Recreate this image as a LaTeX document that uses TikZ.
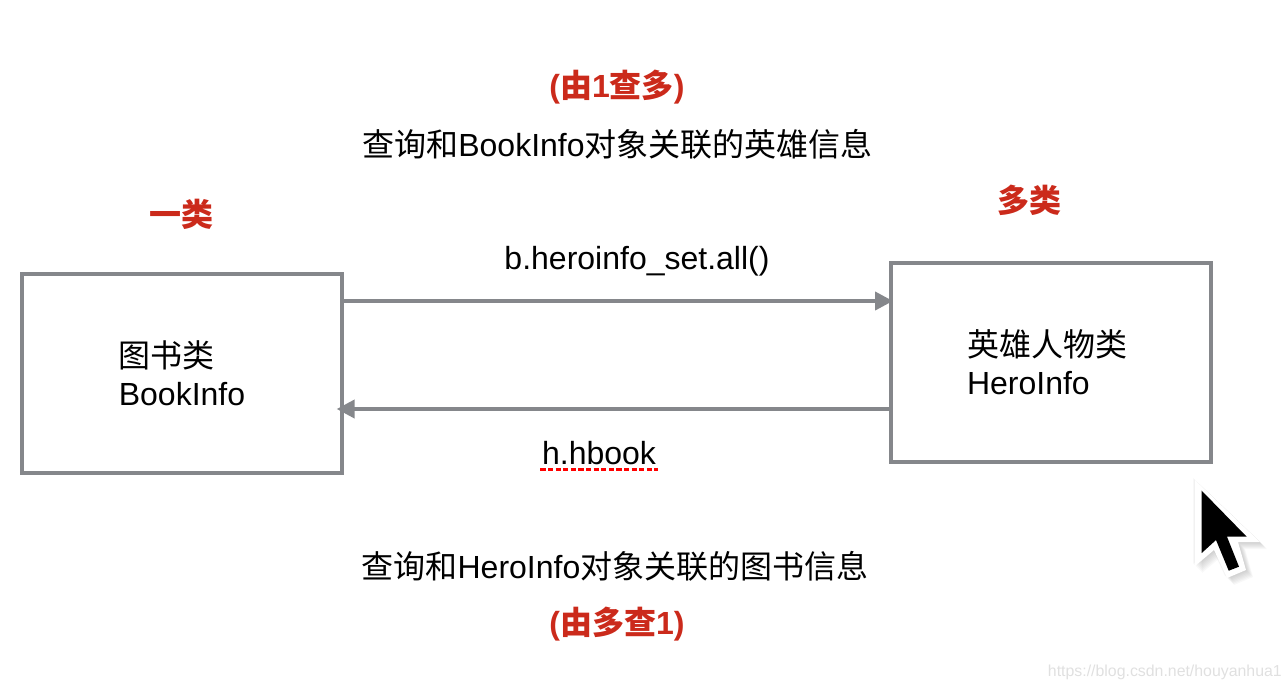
\documentclass[tikz,border=0pt]{standalone}
\usepackage{fontspec}
\setmainfont{Liberation Sans}
\newfontfamily\cjk{Noto Sans CJK SC}
\newcommand{\zh}[1]{{\cjk #1}}
\usetikzlibrary{arrows.meta}
\definecolor{linegray}{HTML}{85878B}
\definecolor{labelred}{HTML}{CB2A1B}
\tikzset{>={Triangle[width=13.5pt,length=13.5pt]}}
\tikzset{classbox/.style={draw=linegray, line width=3pt, minimum width=240pt, minimum height=149pt, align=left}}
\tikzset{link/.style={draw=linegray, line width=3pt, ->, color=linegray}}
\tikzset{plain/.style={font=\fontsize{24}{29}\selectfont, inner sep=1pt}}
\tikzset{redlabel/.style={font=\fontsize{24}{29}\selectfont\bfseries, text=labelred, inner sep=1pt}}
\begin{document}
\begin{tikzpicture}[x=0.75pt, y=-0.75pt]
    \useasboundingbox (0,0) rectangle (1288,690);
    \node[redlabel] (topnote) at (617,87) {(\zh{由}1\zh{查多})};
    \node[plain] (topquery) at (617.5,144) {\zh{查询和}BookInfo\zh{对象关联的英雄信息}};
    \node[redlabel] (onelabel) at (181,214) {\zh{一类}};
    \node[redlabel] (manylabel) at (1029,200) {\zh{多类}};
    \node[classbox, plain, inner sep=1pt] (book) at (182,373.5) {\zh{图书类}\\[-0.75pt]BookInfo};
    \node[classbox, plain, inner sep=1pt, text width=126pt] (hero) at (1051,362.5) {\zh{英雄人物类}\\[-0.75pt]HeroInfo};
    \coordinate (upper) at (617,301);
    \coordinate (lower) at (617,409);
    \draw[link, shorten >=-3pt] (book.east |- upper) -- (hero.west |- upper);
    \draw[link, shorten >=-5.5pt] (hero.west |- lower) -- (book.east |- lower);
    \node[plain] (getheroes) at (637,261.5) {b.heroinfo\_set.all()};
    \node[plain] (getbook) at (599,453) {h.hbook};
    \draw[red, line width=2.25pt, dash pattern=on 3.8pt off 1.9pt] ([yshift=-2pt]getbook.south west) -- ([yshift=-2pt]getbook.south east);
    \node[plain] (bottomquery) at (615,566) {\zh{查询和}HeroInfo\zh{对象关联的图书信息}};
    \node[redlabel] (bottomnote) at (617,624) {(\zh{由多查}1)};
    \foreach \s in {-2,...,7}
      \fill[black, opacity=0.028] (1195+\s,480+\s) -- (1260+\s,542+\s) -- (1238+\s,542+\s) -- (1246+\s,570+\s) -- (1227+\s,578+\s) -- (1214+\s,550+\s) -- (1195+\s,566+\s) -- cycle;
    \fill[white] (1195,480) -- (1260,542) -- (1238,542) -- (1246,570) -- (1227,578) -- (1214,550) -- (1195,566) -- cycle;
    \fill[black] (1201.7,490.7) -- (1246.7,536.7) -- (1227,536.7) -- (1239,566.7) -- (1228.7,570.7) -- (1216,540) -- (1201.7,553) -- cycle;
    \node[font=\fontsize{11.9}{14}\selectfont, text=black!12, anchor=east, inner sep=0pt] (mark) at (1282,672.5) {https://blog.csdn.net/houyanhua1};
\end{tikzpicture}
\end{document}
